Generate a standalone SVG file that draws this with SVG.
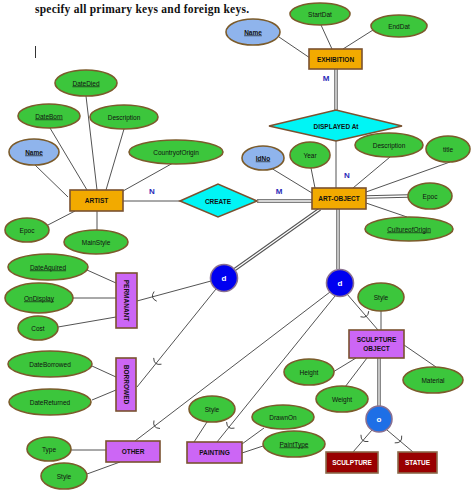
<svg xmlns="http://www.w3.org/2000/svg" xmlns:xlink="http://www.w3.org/1999/xlink" width="474" height="492" viewBox="0 0 474 492">
<style>
.attr{fill:#3cc63c;stroke:#7b5b2b;stroke-width:1.6}
.key{fill:#8fb4ec;stroke:#7b5b2b;stroke-width:1.6}
.ent{fill:#f2aa00;stroke:#7a5230;stroke-width:1.6}
.rel{fill:#00f5f5;stroke:#7a5230;stroke-width:1.6}
.sub{fill:#cc66f5;stroke:#7a5230;stroke-width:1.6}
.red{fill:#990000;stroke:#8a6a4a;stroke-width:1.6}
.dc{fill:#0000f0;stroke:#8a7090;stroke-width:1.6}
.oc{fill:#1e6fe6;stroke:#8a7090;stroke-width:1.6}
.ln{stroke:#404040;stroke-width:0.9;fill:none}
.dbo{stroke:#555;stroke-width:3.4;fill:none}
.dbi{stroke:#fff;stroke-width:1.3;fill:none}
.arc{stroke:#404040;stroke-width:0.9;fill:none}
text{font-family:"Liberation Sans","Open Sans",sans-serif;font-size:6.5px;fill:#111;text-anchor:middle;dominant-baseline:central}
.b{font-weight:bold}
.u{text-decoration:underline}
.w{fill:#fff;font-weight:bold}
.lbl{fill:#2a2ab8;font-weight:bold;font-size:8px}
.title{font-family:"Liberation Serif","DejaVu Serif",serif;font-size:11.5px;font-weight:bold;text-anchor:start;dominant-baseline:auto}
</style>
<defs>
<path id="sarc" d="M2.5,-5 Q-3.5,0 2.5,5"/>
</defs>
<rect width="474" height="492" fill="#fff"/>
<text class="title" x="35" y="13" textLength="214" lengthAdjust="spacing">specify all primary keys and foreign keys.</text>
<line x1="35.5" y1="46" x2="35.5" y2="58" stroke="#333" stroke-width="1"/>

<g id="connectors">
<path class="ln" d="M279,37 L310,58 M321,25 L332,49 M373,30 L343,49"/>
<path class="ln" d="M336,140 L336,188"/>
<path class="ln" d="M87,190 L50,128 M97,190 L86,96 M106,190 L124,129 M68,197 L35,165 M123,191 L173,163 M75,211 L46,226 M97,211 L97,230 M123,201 L180,201"/>
<path class="ln" d="M312,193 L271,168 M315,188 L311,168 M353,188 L390,157 M366,192 L450,162 M366,203 L407,217"/>
<path class="dbo" d="M336,69 L336,110 M257,201 L312,201 M366,197 L408,196 M320,209 L234,270 M338,209 L338,269 M379,358 L379,406"/>
<path class="dbi" d="M336,69 L336,110 M257,201 L312,201 M366,197 L408,196 M320,209 L234,270 M338,209 L338,269 M379,358 L379,406"/>
<path class="ln" d="M211,281 L137,301 M216,289 L137,387 M330,292 L135,441 M335,296 L217,442 M347,294 L378,330"/>
<path class="ln" d="M87,270 L116,283 M73,298 L116,298 M58,327 L116,317 M92,366 L116,377 M92,400 L116,390"/>
<path class="ln" d="M70,450 L106,450 M87,474 L120,462"/>
<path class="ln" d="M207,422 L194,442 M242,444 L264,428 M242,453 L263,446"/>
<path class="ln" d="M381,311 L381,330 M404,345 L436,367 M356,358 L333,372 M367,358 L345,387"/>
<path class="ln" d="M372,430 L353,452 M387,430 L413,452"/>
<use href="#sarc" class="arc" transform="translate(153,297) rotate(-15)"/>
<use href="#sarc" class="arc" transform="translate(156,363) rotate(-51)"/>
<use href="#sarc" class="arc" transform="translate(155,426) rotate(-37)"/>
<use href="#sarc" class="arc" transform="translate(229,427) rotate(-52)"/>
<use href="#sarc" class="arc" transform="translate(366,316) rotate(-124)"/>
<use href="#sarc" class="arc" transform="translate(363,440) rotate(-48)"/>
<use href="#sarc" class="arc" transform="translate(400,441) rotate(-136)"/>
<text class="lbl" x="326" y="78">M</text>
<text class="lbl" x="347" y="175">N</text>
<text class="lbl" x="279" y="191">M</text>
<text class="lbl" x="152" y="191">N</text>
</g>

<g id="exhibition"><rect class="ent" x="309" y="49" width="53" height="20"/><text class="b" x="335.5" y="59">EXHIBITION</text></g>
<g id="exh-name"><ellipse class="key" cx="253" cy="32" rx="27" ry="13"/><text class="b u" x="253" y="32">Name</text></g>
<g id="startdat"><ellipse class="attr" cx="320" cy="14" rx="30" ry="11"/><text x="320" y="14">StartDat</text></g>
<g id="enddat"><ellipse class="attr" cx="399" cy="26" rx="28" ry="11"/><text x="399" y="26">EndDat</text></g>

<g id="displayed-at"><polygon class="rel" points="269,126 336,110 402,126 336,141"/><text class="b" x="336" y="126">DISPLAYED At</text></g>

<g id="art-object"><rect class="ent" x="312" y="188" width="54" height="21"/><text class="b" x="339" y="198.5">ART-OBJECT</text></g>
<g id="idno"><ellipse class="key" cx="263" cy="158" rx="21" ry="12"/><text class="b u" x="263" y="158">IdNo</text></g>
<g id="year"><ellipse class="attr" cx="310" cy="155" rx="20" ry="13"/><text x="310" y="155">Year</text></g>
<g id="ao-description"><ellipse class="attr" cx="389" cy="145" rx="34" ry="12"/><text x="389" y="145">Description</text></g>
<g id="title"><ellipse class="attr" cx="448" cy="149" rx="22" ry="13"/><text x="448" y="149">title</text></g>
<g id="ao-epoc"><ellipse class="attr" cx="430" cy="196" rx="22" ry="13"/><text x="430" y="196">Epoc</text></g>
<g id="cultureoforigin"><ellipse class="attr" cx="409" cy="229" rx="44" ry="12"/><text class="u" x="409" y="229">CultureofOrigin</text></g>

<g id="create"><polygon class="rel" points="180,201 218,184 257,201 218,217"/><text class="b" x="218" y="201">CREATE</text></g>

<g id="artist"><rect class="ent" x="70" y="190" width="53" height="21"/><text class="b" x="96.5" y="200.5">ARTIST</text></g>
<g id="datedied"><ellipse class="attr" cx="86" cy="83" rx="31" ry="13"/><text class="u" x="86" y="83">DateDied</text></g>
<g id="dateborn"><ellipse class="attr" cx="49" cy="116" rx="31" ry="12"/><text class="u" x="49" y="116">DateBorn</text></g>
<g id="ar-description"><ellipse class="attr" cx="124" cy="117" rx="34" ry="12"/><text x="124" y="117">Description</text></g>
<g id="ar-name"><ellipse class="key" cx="34" cy="152" rx="25" ry="13"/><text class="b u" x="34" y="152">Name</text></g>
<g id="countryoforigin"><ellipse class="attr" cx="176" cy="152" rx="47" ry="12"/><text x="176" y="152">CountryofOrigin</text></g>
<g id="ar-epoc"><ellipse class="attr" cx="27" cy="230" rx="22" ry="12"/><text x="27" y="230">Epoc</text></g>
<g id="mainstyle"><ellipse class="attr" cx="96" cy="242" rx="32" ry="12"/><text x="96" y="242">MainStyle</text></g>

<g id="d1"><circle class="dc" cx="224" cy="278" r="13.5"/><text class="w" x="224" y="278" style="font-size:8px">d</text></g>
<g id="d2"><circle class="dc" cx="340" cy="283" r="13.5"/><text class="w" x="340" y="283" style="font-size:8px">d</text></g>

<g id="permanent"><rect class="sub" x="116" y="273" width="21" height="55"/><text class="b" transform="translate(126.5,300.5) rotate(90)">PERMANANT</text></g>
<g id="dateaquired"><ellipse class="attr" cx="48" cy="267" rx="40" ry="13"/><text class="u" x="48" y="267">DateAquired</text></g>
<g id="ondisplay"><ellipse class="attr" cx="39" cy="298" rx="34" ry="15"/><text class="u" x="39" y="298">OnDisplay</text></g>
<g id="cost"><ellipse class="attr" cx="38" cy="328" rx="20" ry="12"/><text x="38" y="328">Cost</text></g>

<g id="borrowed"><rect class="sub" x="116" y="358" width="20" height="53"/><text class="b" transform="translate(126,384.5) rotate(90)">BORROWED</text></g>
<g id="dateborrowed"><ellipse class="attr" cx="50" cy="364" rx="42" ry="13"/><text x="50" y="364">DateBorrowed</text></g>
<g id="datereturned"><ellipse class="attr" cx="50" cy="402" rx="41" ry="13"/><text x="50" y="402">DateReturned</text></g>

<g id="other"><rect class="sub" x="106" y="441" width="54" height="21"/><text class="b" x="133" y="451.5">OTHER</text></g>
<g id="type"><ellipse class="attr" cx="49" cy="449" rx="22" ry="12"/><text x="49" y="449">Type</text></g>
<g id="other-style"><ellipse class="attr" cx="64" cy="476" rx="23" ry="13"/><text x="64" y="476">Style</text></g>

<g id="painting"><rect class="sub" x="187" y="442" width="55" height="21"/><text class="b" x="214.5" y="452.5">PAINTING</text></g>
<g id="painting-style"><ellipse class="attr" cx="212" cy="409" rx="23" ry="13"/><text x="212" y="409">Style</text></g>
<g id="drawnon"><ellipse class="attr" cx="283" cy="417" rx="31" ry="12"/><text x="283" y="417">DrawnOn</text></g>
<g id="painttype"><ellipse class="attr" cx="294" cy="444" rx="31" ry="13"/><text class="u" x="294" y="444">PaintType</text></g>

<g id="sculpture-object"><rect class="sub" x="349" y="330" width="55" height="28"/><text class="b" x="376.5" y="339.5">SCULPTURE</text><text class="b" x="376.5" y="348.5">OBJECT</text></g>
<g id="so-style"><ellipse class="attr" cx="381" cy="297" rx="23" ry="14"/><text x="381" y="297">Style</text></g>
<g id="material"><ellipse class="attr" cx="433" cy="380" rx="30" ry="13"/><text x="433" y="380">Material</text></g>
<g id="height"><ellipse class="attr" cx="309" cy="372" rx="25" ry="13"/><text x="309" y="372">Height</text></g>
<g id="weight"><ellipse class="attr" cx="342" cy="399" rx="26" ry="13"/><text x="342" y="399">Weight</text></g>

<g id="o"><circle class="oc" cx="379" cy="419" r="13"/><text class="w" x="379" y="419" style="font-size:8px">o</text></g>
<g id="sculpture"><rect class="red" x="326" y="452" width="52" height="21"/><text class="w" x="352" y="462.5">SCULPTURE</text></g>
<g id="statue"><rect class="red" x="398" y="452" width="39" height="21"/><text class="w" x="417.5" y="462.5">STATUE</text></g>
</svg>
